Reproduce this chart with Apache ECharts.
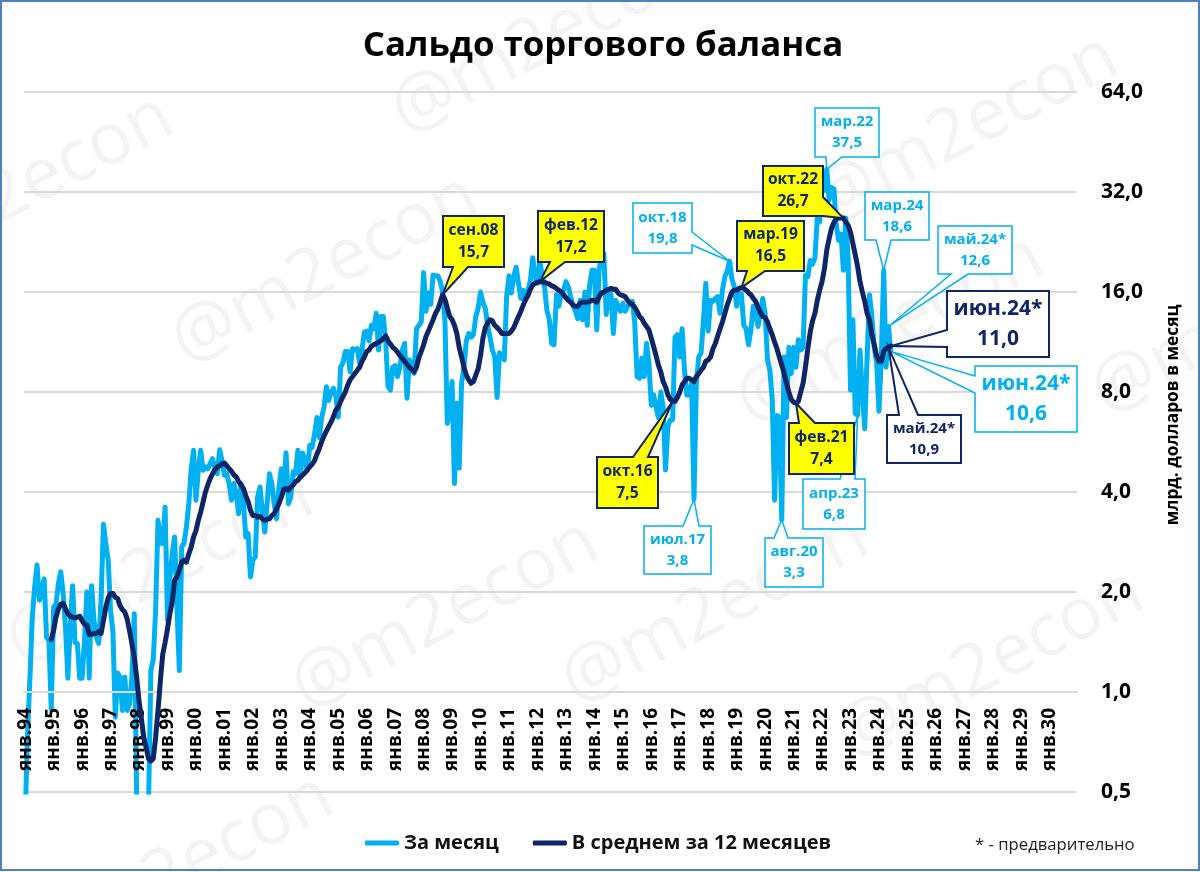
<!DOCTYPE html>
<html>
<head>
<meta charset="utf-8">
<style>html,body{margin:0;padding:0;background:#fff}#chart{width:1200px;height:872px}</style>
<script src="https://cdn.jsdelivr.net/npm/echarts@6/dist/echarts.min.js"></script>
</head>
<body>
<div id="chart"></div>
<script>
const monthNames = ["янв","фев","мар","апр","май","июн","июл","авг","сен","окт","ноя","дек"]
const yearLabels = ["94","95","96","97","98","99","00","01","02","03","04","05","06","07","08","09","10","11","12","13","14","15","16","17","18","19","20","21","22","23","24","25","26","27","28","29","30"]
const categories = []
yearLabels.forEach(y => monthNames.forEach(m => categories.push(m + "." + y)))

// за месяц, янв.94 - июн.24, млрд. долларов
const monthly = [
  .42,.75,1.1,1.68,2.07,2.41,1.89,2.02,2.19,1.46,1.43,.89,
  1.8,1.84,2.12,2.3,1.98,1.57,1.1,1.57,2.09,1.41,1.4,1.1,
  1.1,1.43,2,1.1,2.09,1.64,1.46,1.4,1.89,3.2,2.8,2.49,
  1.76,1.52,.84,1.14,1.11,.88,1.11,.88,.92,1.11,1.72,.49,
  .4,.38,.37,.4,.45,1.16,1.25,1.76,3.29,2.81,2.8,3.6,
  1.65,2.2,2.6,2.93,1.8,1.16,2.73,2.81,3.14,3.69,4.7,5.34,
  3.78,4.65,5.34,4.65,4.76,4.7,4.87,5.04,4.7,4.54,5.36,4.97,
  4.49,4.54,4.24,3.78,4.24,3.94,3.44,4.24,3.78,2.93,3,2.22,
  2.49,2.55,3.86,4.14,3.52,3.03,3.69,4.54,4.24,3.69,3.32,4.14,
  4.7,4.05,5.25,3.69,3.86,4.6,4.54,5.34,4.44,5.24,4.97,4.65,
  5.53,5.45,5.98,6.7,5.84,6.7,7.2,8.3,7.55,8,8.2,7.75,
  6.73,9.5,9.8,10.6,10.6,9.2,10.8,10.7,10.8,9.8,10.7,12.1,
  12.2,11.4,12.7,12.4,13.8,10.7,13.5,13.5,11.4,8.3,8.1,9.5,
  9.6,8.9,9.5,10.7,11.2,7.66,10,9.5,9.1,12.4,12.7,13,
  18.3,14,15.9,14.7,18,17.9,17.9,17.2,16,13,6.43,7.06,
  8.6,4.24,7.4,4.72,8.5,9.5,11.4,12,11.7,11.9,13.5,14.3,
  16,14.9,14.3,12.7,11.7,10.7,10.2,7.7,10.5,10.3,10,15.5,
  17.9,15.9,17.8,19,17,15.3,16.2,15.1,16.2,17.3,20.3,17.8,
  17,19.9,17.8,16.6,14.1,13.2,11.2,11.1,15.7,14.5,15.7,16.2,
  17.2,16.6,15.5,14.6,14,13.3,15.1,13.2,16,12.7,16.8,18.6,
  18.6,12.3,18.6,20.9,20.9,13.7,16.2,15.7,12,15.1,14.5,14,
  14.8,14,14.5,14.8,15,13,8.9,8.8,10.1,8.9,11.2,9.76,
  7.3,7.84,7.2,6.7,8,7.2,4.66,6.3,6.6,6.6,11.7,11.9,
  10.2,12.4,9.3,7.84,7.84,8.5,3.8,8.5,10.2,10.5,13.2,17,
  12.2,15.1,15,15.3,15.5,13.8,16.2,17.8,18.5,19.8,17.5,16.6,
  14.5,15.8,15.8,12.7,12.4,11.1,12.3,14.5,13.8,12.6,13.8,15.3,
  13.8,10,9.3,7.6,3.78,6.8,6.7,3.3,10.2,6.7,10.9,9.1,
  10.9,9.5,11.5,10.7,10.9,18,17.8,19.9,19.4,20.3,26.7,26,
  34.8,32.4,37.5,30.3,33,32.7,25.4,22.9,23.9,18.6,26.7,20.3,
  8.1,13.2,6.9,6.8,10.7,7.9,6.2,10.2,15.7,13.5,10.9,9.8,
  7,10.2,18.6,9.5,12.6,10.6
]

// в среднем за 12 месяцев, с дек.94
const average12 = [
  null,null,null,null,null,null,null,null,null,null,null,
  1.44,1.53,1.68,1.78,1.84,1.85,1.78,1.72,1.69,1.68,1.67,1.68,1.69,
  1.64,1.6,1.59,1.49,1.49,1.5,1.5,1.52,1.5,1.64,1.8,1.92,
  1.98,1.98,1.93,1.91,1.82,1.77,1.74,1.66,1.53,1.4,1.27,1.11,
  .94,.83,.73,.68,.63,.62,.63,.73,.88,1.08,1.3,1.41,
  1.55,1.72,1.87,2.17,2.22,2.33,2.46,2.49,2.46,2.61,2.73,2.93,
  3.06,3.29,3.48,3.73,4,4.2,4.39,4.54,4.67,4.76,4.8,4.86,
  4.89,4.8,4.7,4.62,4.5,4.44,4.3,4.2,4.1,3.9,3.74,3.52,
  3.4,3.4,3.36,3.38,3.32,3.29,3.31,3.32,3.4,3.44,3.57,3.69,
  3.86,4.07,4.1,4.05,4.14,4.2,4.3,4.34,4.44,4.5,4.57,4.67,
  4.76,4.85,4.97,5.2,5.4,5.67,5.9,6.1,6.3,6.5,6.75,7.06,
  7.2,7.5,7.75,8,8.4,8.7,8.9,9.1,9.3,9.5,9.9,10.2,
  10.6,10.7,11,11.1,11.2,11.3,11.4,11.6,11.8,11.4,11.15,10.9,
  10.75,10.55,10.3,10.1,9.9,9.7,9.5,9.35,9.2,9.5,10.15,10.6,
  11.1,11.75,12.2,12.7,13.2,13.8,14.2,14.9,15.7,15.2,14.3,13.5,
  13.2,12.7,12,10.9,10.2,9.5,9,8.7,8.5,8.6,9,9.4,
  10.3,11.6,12.5,12.9,13.2,13.1,12.7,12.5,12.3,12,12,12,
  12,12.2,12.5,13,13.5,14,14.6,15.2,15.6,16.3,16.8,17,
  17.1,17.2,17.15,17.1,17,16.9,16.7,16.6,16.4,16.2,16,15.7,
  15.4,15.1,14.9,14.6,14.5,14.5,14.8,14.9,14.9,14.9,15,15.1,
  15.1,14.9,15.5,15.9,16,16.2,16.3,16.4,16.3,16.3,15.9,15.7,
  15.6,15.5,15.1,14.8,14.7,14.4,14,13.5,13.3,12.9,12.6,12.3,
  11.6,10.95,10.3,9.65,9.2,8.6,8.3,7.84,7.6,7.5,7.5,7.7,
  8,8.4,8.6,8.8,8.8,8.7,8.6,8.9,9.1,9.3,9.5,9.9,
  10,10.2,10.8,11.2,11.8,12.4,13,13.8,14.6,15.3,16,16.2,
  16.2,16.4,16.5,16.4,16.2,15.9,15.7,15.3,15,14.4,13.9,13.5,
  13.4,13,12.4,11.9,11.3,10.8,10.2,9.65,9.1,8.5,8,7.6,
  7.45,7.4,7.5,8,8.5,9.5,10.8,12.1,13.1,13.8,15.1,16.2,
  17.2,18.8,21.4,23.2,24.9,25.9,26.6,26.7,26.7,26.7,26,25.4,
  24.2,22.4,20.7,19.1,17.2,16,15,13.8,13.2,11.9,11.1,10.3,
  9.9,9.9,10.6,10.8,10.9,11
]

const tickValues = [0.5, 1, 2, 4, 8, 16, 32, 64]

// подписи: месяц и значение
const calloutMonths = ["окт.18","июл.17","авг.20","мар.22","апр.23","мар.24","май.24*","июн.24*","июн.24*","май.24*","сен.08","фев.12","окт.16","мар.19","окт.22","фев.21"]
const calloutValues = [19.8,3.8,3.3,37.5,6.8,18.6,12.6,10.6,11.0,10.9,15.7,17.2,7.5,16.5,26.7,7.4]

// выноски: рамка x,y,w,h, сторона с хвостом и его начало/конец, стиль
const calloutBoxes = [
  [633,203,59,50,"right",232,245,"light"],
  [644,526,67,48,"top",683,699,"light"],
  [765,538,58,49,"top",774,788,"light"],
  [815,108,64,49,"bottom",826,842,"light"],
  [803,479,62,50,"top",840,855,"light"],
  [865,192,64,48,"bottom",876,891,"light"],
  [938,226,74,48,"bottom",951,968,"light"],
  [975,366,102,66,"left",376,393,"lightBig"],
  [947,291,102,66,"left",330,347,"navyBig"],
  [887,415,74,48,"top",899,918,"navy"],
  [443,216,61,51,"bottom",453,468,"yellow"],
  [538,211,66,51,"bottom",550,565,"yellow"],
  [597,457,61,51,"top",633,648,"yellow"],
  [737,221,67,50,"bottom",747,765,"yellow"],
  [763,166,60,50,"right",197,216,"yellow"],
  [789,423,65,51,"top",799,815,"yellow"]
]
const calloutStyles = {
  light: {fill: "#fff", stroke: "#00b0f0", text: "#00b0f0", size: 15, line: 21},
  lightBig: {fill: "#fff", stroke: "#00b0f0", text: "#00b0f0", size: 21, line: 30},
  navy: {fill: "#fff", stroke: "#0e2566", text: "#0e2566", size: 15, line: 21},
  navyBig: {fill: "#fff", stroke: "#0e2566", text: "#0e2566", size: 21, line: 30},
  yellow: {fill: "#ffff00", stroke: "#0e2566", text: "#0e2566", size: 15.6, line: 22}
}

const watermarks = [[20,190],[325,270],[545,40],[965,130],[890,330],[1245,320],[160,570],[445,615],[715,610],[990,665],[180,870]]

const fontName = "'Open Sans'"
const comma = v => v.toFixed(1).replace(".", ",")
const monthIndex = label => categories.indexOf(label.replace("*", ""))
const isMonthly = i => calloutBoxes[i][7].startsWith("light")

function boxShape(box, tip) {
  const [x, y, w, h, side, a, b] = box
  const r = x + w, d = y + h
  const pts = [[x, y]]
  if (side === "top") pts.push([a, y], tip, [b, y])
  pts.push([r, y])
  if (side === "right") pts.push([r, a], tip, [r, b])
  pts.push([r, d])
  if (side === "bottom") pts.push([b, d], tip, [a, d])
  pts.push([x, d])
  if (side === "left") pts.push([x, b], tip, [x, a])
  return pts
}

function renderCallout(params, api) {
  const i = params.dataIndex
  const box = calloutBoxes[i]
  const st = calloutStyles[box[7]]
  const tip = api.coord([monthIndex(calloutMonths[i]), isMonthly(i) ? monthly[monthIndex(calloutMonths[i])] : average12[monthIndex(calloutMonths[i])]])
  return {
    type: "group",
    children: [
      {
        type: "polygon",
        shape: {points: boxShape(box, tip)},
        style: {fill: st.fill, stroke: st.stroke, lineWidth: box[7].startsWith("light") ? 1.5 : 2}
      },
      {
        type: "text",
        x: box[0] + box[2] / 2,
        y: box[1] + box[3] / 2,
        style: {
          text: calloutMonths[i] + "\n" + comma(calloutValues[i]),
          fill: st.text,
          font: "bold " + st.size + "px " + fontName,
          lineHeight: st.line,
          align: "center",
          verticalAlign: "middle"
        }
      }
    ]
  }
}

const chart = echarts.init(document.getElementById("chart"))
chart.setOption({
  animation: false,
  backgroundColor: "#fff",
  title: {
    text: "Сальдо торгового баланса",
    left: 598,
    textAlign: "center",
    top: 24,
    textStyle: {fontFamily: fontName, fontWeight: "bold", fontSize: 34.8, color: "#000"}
  },
  grid: {left: 24, right: 123, top: 92, bottom: 80},
  legend: {
    left: 360,
    top: 828,
    icon: "roundRect",
    itemWidth: 34,
    itemHeight: 5,
    itemGap: 34,
    data: ["За месяц", "В среднем за 12 месяцев"],
    textStyle: {fontFamily: fontName, fontWeight: "bold", fontSize: 20, color: "#111"}
  },
  xAxis: {
    type: "category",
    data: categories,
    offset: -100,
    z: 3,
    axisLine: {onZero: false, lineStyle: {color: "#d9d9d9", width: 2}},
    axisTick: {interval: 11, length: 6, lineStyle: {color: "#d9d9d9", width: 1.5}},
    axisLabel: {
      interval: 11,
      rotate: 90,
      margin: 16,
      padding: [5, 0, 0, 0],
      fontFamily: fontName,
      fontWeight: "bold",
      fontSize: 19,
      color: "#000"
    },
    splitLine: {show: false}
  },
  yAxis: {
    type: "log",
    logBase: 2,
    min: tickValues[0],
    max: tickValues[tickValues.length - 1],
    position: "right",
    splitNumber: tickValues.length - 1,
    axisLine: {show: false},
    axisTick: {show: false},
    axisLabel: {
      margin: 24,
      formatter: v => comma(v),
      fontFamily: fontName,
      fontWeight: "bold",
      fontSize: 21,
      color: "#000"
    },
    splitLine: {lineStyle: {color: "#d9d9d9", width: 2}}
  },
  series: [
    {
      name: "За месяц",
      type: "line",
      data: monthly,
      showSymbol: false,
      symbol: "none",
      z: 2,
      itemStyle: {color: "#00b0f0"},
      lineStyle: {color: "#00b0f0", width: 5, cap: "round", join: "round"}
    },
    {
      name: "В среднем за 12 месяцев",
      type: "line",
      data: average12,
      showSymbol: false,
      symbol: "none",
      z: 4,
      itemStyle: {color: "#0e2566"},
      lineStyle: {color: "#0e2566", width: 5, cap: "round", join: "round"}
    },
    {
      type: "custom",
      data: calloutMonths.map((m, i) => [monthIndex(m), calloutValues[i]]),
      renderItem: renderCallout,
      clip: false,
      silent: true,
      z: 6
    }
  ],
  graphic: [
    {
      type: "rect",
      z: 100,
      shape: {x: 1, y: 1, width: 1198, height: 869},
      style: {fill: null, stroke: "#4f81bd", lineWidth: 2}
    },
    {
      type: "text",
      x: 975,
      y: 837,
      z: 10,
      style: {text: "* - предварительно", fill: "#222", font: "16.7px " + fontName}
    },
    {
      type: "text",
      x: 1173,
      y: 415,
      rotation: Math.PI / 2,
      z: 10,
      style: {text: "млрд. долларов в месяц", fill: "#000", font: "bold 17.3px " + fontName, align: "center", verticalAlign: "middle"}
    }
  ].concat(watermarks.map(p => ({
    type: "text",
    x: p[0],
    y: p[1],
    rotation: 0.48,
    z: -1,
    style: {text: "@m2econ", fill: "#f3f3f3", font: "72px " + fontName, align: "center", verticalAlign: "middle"}
  })))
})
</script>
</body>
</html>
